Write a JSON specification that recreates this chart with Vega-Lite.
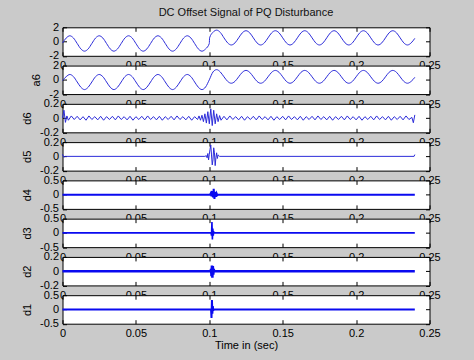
{
"$schema": "https://vega.github.io/schema/vega-lite/v6.json",
"autosize": {"type": "none"},
"padding": {"left": 62.5, "top": 27.3, "right": 411.5, "bottom": 332.7},
"background": "#cacaca",
"bounds": "flush",
"spacing": 9.27,
"config": {
  "view": {"fill": "white", "stroke": "black", "strokeWidth": 1},
  "axis": {"domain": false, "grid": false, "ticks": true, "tickSize": -4, "tickColor": "black", "tickWidth": 1,
    "labelFlush": false, "labelOverlap": false, "labelPadding": 8, "labelFont": "Liberation Sans", "labelFontSize": 11, "labelColor": "black",
    "titleFont": "Liberation Sans", "titleFontSize": 11, "titleFontWeight": "normal", "titleColor": "black"},
  "axisY": {"titlePadding": 7},
  "axisX": {"titlePadding": 1, "labelPadding": 8},
  "title": {"font": "Liberation Sans", "fontSize": 11, "fontWeight": "normal", "color": "#111111", "anchor": "middle", "frame": "group"},
  "line": {"color": "#2b2bd9", "strokeWidth": 1}
},
"datasets": {
  "s": [
    {"t":0,"v":-0.2},{"t":0.0025,"v":0.49},{"t":0.005,"v":0.81},{"t":0.0075,"v":0.49},{"t":0.01,"v":-0.27},{"t":0.0125,"v":-1.03},{"t":0.015,"v":-1.35},{"t":0.0175,"v":-1.03},
    {"t":0.02,"v":-0.27},{"t":0.0225,"v":0.49},{"t":0.025,"v":0.81},{"t":0.0275,"v":0.49},{"t":0.03,"v":-0.27},{"t":0.0325,"v":-1.03},{"t":0.035,"v":-1.35},{"t":0.0375,"v":-1.03},
    {"t":0.04,"v":-0.27},{"t":0.0425,"v":0.49},{"t":0.045,"v":0.81},{"t":0.0475,"v":0.49},{"t":0.05,"v":-0.27},{"t":0.0525,"v":-1.03},{"t":0.055,"v":-1.35},{"t":0.0575,"v":-1.03},
    {"t":0.06,"v":-0.27},{"t":0.0625,"v":0.49},{"t":0.065,"v":0.81},{"t":0.0675,"v":0.49},{"t":0.07,"v":-0.27},{"t":0.0725,"v":-1.03},{"t":0.075,"v":-1.35},{"t":0.0775,"v":-1.03},
    {"t":0.08,"v":-0.27},{"t":0.0825,"v":0.49},{"t":0.085,"v":0.81},{"t":0.0875,"v":0.49},{"t":0.09,"v":-0.27},{"t":0.0925,"v":-1.03},{"t":0.095,"v":-1.35},{"t":0.0975,"v":-1.03},
    {"t":0.1,"v":-0.27},{"t":0.1002,"v":0.52},{"t":0.1025,"v":1.3},{"t":0.105,"v":1.6},{"t":0.1075,"v":1.28},{"t":0.11,"v":0.52},{"t":0.1125,"v":-0.19},{"t":0.115,"v":-0.48},{"t":0.1175,"v":-0.19},
    {"t":0.12,"v":0.52},{"t":0.1225,"v":1.23},{"t":0.125,"v":1.52},{"t":0.1275,"v":1.23},{"t":0.13,"v":0.52},{"t":0.1325,"v":-0.19},{"t":0.135,"v":-0.48},{"t":0.1375,"v":-0.19},
    {"t":0.14,"v":0.52},{"t":0.1425,"v":1.23},{"t":0.145,"v":1.52},{"t":0.1475,"v":1.23},{"t":0.15,"v":0.52},{"t":0.1525,"v":-0.19},{"t":0.155,"v":-0.48},{"t":0.1575,"v":-0.19},
    {"t":0.16,"v":0.52},{"t":0.1625,"v":1.23},{"t":0.165,"v":1.52},{"t":0.1675,"v":1.23},{"t":0.17,"v":0.52},{"t":0.1725,"v":-0.19},{"t":0.175,"v":-0.48},{"t":0.1775,"v":-0.19},
    {"t":0.18,"v":0.52},{"t":0.1825,"v":1.23},{"t":0.185,"v":1.52},{"t":0.1875,"v":1.23},{"t":0.19,"v":0.52},{"t":0.1925,"v":-0.19},{"t":0.195,"v":-0.48},{"t":0.1975,"v":-0.19},
    {"t":0.2,"v":0.52},{"t":0.2025,"v":1.23},{"t":0.205,"v":1.52},{"t":0.2075,"v":1.23},{"t":0.21,"v":0.52},{"t":0.2125,"v":-0.19},{"t":0.215,"v":-0.48},{"t":0.2175,"v":-0.19},
    {"t":0.22,"v":0.52},{"t":0.2225,"v":1.23},{"t":0.225,"v":1.52},{"t":0.2275,"v":1.23},{"t":0.23,"v":0.52},{"t":0.2325,"v":-0.19},{"t":0.235,"v":-0.48},{"t":0.2375,"v":-0.19},
    {"t":0.24,"v":0.45}
  ],
  "a6": [
    {"t":0,"v":-0.1},{"t":0.0025,"v":0.44},{"t":0.005,"v":0.75},{"t":0.0075,"v":0.44},{"t":0.01,"v":-0.3},{"t":0.0125,"v":-1.04},{"t":0.015,"v":-1.37},{"t":0.0175,"v":-1.04},
    {"t":0.02,"v":-0.3},{"t":0.0225,"v":0.44},{"t":0.025,"v":0.75},{"t":0.0275,"v":0.44},{"t":0.03,"v":-0.3},{"t":0.0325,"v":-1.04},{"t":0.035,"v":-1.37},{"t":0.0375,"v":-1.04},
    {"t":0.04,"v":-0.3},{"t":0.0425,"v":0.44},{"t":0.045,"v":0.75},{"t":0.0475,"v":0.44},{"t":0.05,"v":-0.3},{"t":0.0525,"v":-1.04},{"t":0.055,"v":-1.37},{"t":0.0575,"v":-1.04},
    {"t":0.06,"v":-0.3},{"t":0.0625,"v":0.44},{"t":0.065,"v":0.75},{"t":0.0675,"v":0.44},{"t":0.07,"v":-0.3},{"t":0.0725,"v":-1.04},{"t":0.075,"v":-1.37},{"t":0.0775,"v":-1.04},
    {"t":0.08,"v":-0.3},{"t":0.0825,"v":0.44},{"t":0.085,"v":0.75},{"t":0.0875,"v":0.44},{"t":0.09,"v":-0.3},{"t":0.0925,"v":-1.04},{"t":0.095,"v":-1.37},{"t":0.0975,"v":-1.0},
    {"t":0.1,"v":0.0},{"t":0.1025,"v":1.1},{"t":0.105,"v":1.43},{"t":0.1075,"v":1.1},{"t":0.11,"v":0.42},{"t":0.1125,"v":-0.22},{"t":0.115,"v":-0.48},{"t":0.1175,"v":-0.22},
    {"t":0.12,"v":0.42},{"t":0.1225,"v":1.06},{"t":0.125,"v":1.32},{"t":0.1275,"v":1.06},{"t":0.13,"v":0.42},{"t":0.1325,"v":-0.22},{"t":0.135,"v":-0.48},{"t":0.1375,"v":-0.22},
    {"t":0.14,"v":0.42},{"t":0.1425,"v":1.06},{"t":0.145,"v":1.32},{"t":0.1475,"v":1.06},{"t":0.15,"v":0.42},{"t":0.1525,"v":-0.22},{"t":0.155,"v":-0.48},{"t":0.1575,"v":-0.22},
    {"t":0.16,"v":0.42},{"t":0.1625,"v":1.06},{"t":0.165,"v":1.32},{"t":0.1675,"v":1.06},{"t":0.17,"v":0.42},{"t":0.1725,"v":-0.22},{"t":0.175,"v":-0.48},{"t":0.1775,"v":-0.22},
    {"t":0.18,"v":0.42},{"t":0.1825,"v":1.06},{"t":0.185,"v":1.32},{"t":0.1875,"v":1.06},{"t":0.19,"v":0.42},{"t":0.1925,"v":-0.22},{"t":0.195,"v":-0.48},{"t":0.1975,"v":-0.22},
    {"t":0.2,"v":0.42},{"t":0.2025,"v":1.06},{"t":0.205,"v":1.32},{"t":0.2075,"v":1.06},{"t":0.21,"v":0.42},{"t":0.2125,"v":-0.22},{"t":0.215,"v":-0.48},{"t":0.2175,"v":-0.22},
    {"t":0.22,"v":0.42},{"t":0.2225,"v":1.06},{"t":0.225,"v":1.32},{"t":0.2275,"v":1.06},{"t":0.23,"v":0.42},{"t":0.2325,"v":-0.22},{"t":0.235,"v":-0.48},{"t":0.2375,"v":-0.22},
    {"t":0.24,"v":0.35}
  ],
  "d6": [
    {"t":0,"v":0},{"t":0.001,"v":0.11},{"t":0.002,"v":-0.06},{"t":0.003,"v":0.03},
    {"t":0.004,"v":-0.03},{"t":0.006,"v":0.03},{"t":0.008,"v":-0.02},{"t":0.010,"v":0.025},{"t":0.012,"v":-0.025},{"t":0.014,"v":0.02},{"t":0.016,"v":-0.03},{"t":0.018,"v":0.03},
    {"t":0.020,"v":-0.02},{"t":0.022,"v":0.02},{"t":0.024,"v":-0.025},{"t":0.026,"v":0.025},{"t":0.028,"v":-0.03},{"t":0.030,"v":0.02},{"t":0.032,"v":-0.02},{"t":0.034,"v":0.025},
    {"t":0.036,"v":-0.025},{"t":0.038,"v":0.03},{"t":0.040,"v":-0.02},{"t":0.042,"v":0.02},{"t":0.044,"v":-0.025},{"t":0.046,"v":0.025},{"t":0.048,"v":-0.03},{"t":0.050,"v":0.02},
    {"t":0.052,"v":-0.02},{"t":0.054,"v":0.025},{"t":0.056,"v":-0.025},{"t":0.058,"v":0.03},{"t":0.060,"v":-0.02},{"t":0.062,"v":0.02},{"t":0.064,"v":-0.025},{"t":0.066,"v":0.025},
    {"t":0.068,"v":-0.03},{"t":0.070,"v":0.02},{"t":0.072,"v":-0.02},{"t":0.074,"v":0.025},{"t":0.076,"v":-0.025},{"t":0.078,"v":0.03},{"t":0.080,"v":-0.02},{"t":0.082,"v":0.02},
    {"t":0.084,"v":-0.025},{"t":0.086,"v":0.025},{"t":0.088,"v":-0.03},{"t":0.090,"v":0.02},{"t":0.092,"v":-0.02},
    {"t":0.093,"v":0.03},{"t":0.094,"v":-0.03},{"t":0.095,"v":0.04},{"t":0.096,"v":-0.05},{"t":0.097,"v":0.06},{"t":0.098,"v":-0.07},{"t":0.099,"v":0.09},{"t":0.100,"v":-0.08},
    {"t":0.101,"v":0.13},{"t":0.102,"v":-0.105},{"t":0.103,"v":0.11},{"t":0.104,"v":-0.08},{"t":0.105,"v":0.06},{"t":0.106,"v":-0.05},{"t":0.107,"v":0.035},{"t":0.108,"v":-0.03},
    {"t":0.110,"v":0.025},{"t":0.112,"v":-0.025},{"t":0.114,"v":0.03},{"t":0.116,"v":-0.02},{"t":0.118,"v":0.02},{"t":0.120,"v":-0.025},{"t":0.122,"v":0.025},{"t":0.124,"v":-0.03},
    {"t":0.126,"v":0.02},{"t":0.128,"v":-0.02},{"t":0.130,"v":0.025},{"t":0.132,"v":-0.025},{"t":0.134,"v":0.03},{"t":0.136,"v":-0.02},{"t":0.138,"v":0.02},{"t":0.140,"v":-0.025},
    {"t":0.142,"v":0.025},{"t":0.144,"v":-0.03},{"t":0.146,"v":0.02},{"t":0.148,"v":-0.02},{"t":0.150,"v":0.025},{"t":0.152,"v":-0.025},{"t":0.154,"v":0.03},{"t":0.156,"v":-0.02},
    {"t":0.158,"v":0.02},{"t":0.160,"v":-0.025},{"t":0.162,"v":0.025},{"t":0.164,"v":-0.03},{"t":0.166,"v":0.02},{"t":0.168,"v":-0.02},{"t":0.170,"v":0.025},{"t":0.172,"v":-0.025},
    {"t":0.174,"v":0.03},{"t":0.176,"v":-0.02},{"t":0.178,"v":0.02},{"t":0.180,"v":-0.025},{"t":0.182,"v":0.025},{"t":0.184,"v":-0.03},{"t":0.186,"v":0.02},{"t":0.188,"v":-0.02},
    {"t":0.190,"v":0.025},{"t":0.192,"v":-0.025},{"t":0.194,"v":0.03},{"t":0.196,"v":-0.02},{"t":0.198,"v":0.02},{"t":0.200,"v":-0.025},{"t":0.202,"v":0.025},{"t":0.204,"v":-0.03},
    {"t":0.206,"v":0.02},{"t":0.208,"v":-0.02},{"t":0.210,"v":0.025},{"t":0.212,"v":-0.025},{"t":0.214,"v":0.03},{"t":0.216,"v":-0.02},{"t":0.218,"v":0.02},{"t":0.220,"v":-0.025},
    {"t":0.222,"v":0.025},{"t":0.224,"v":-0.03},{"t":0.226,"v":0.02},{"t":0.228,"v":-0.02},{"t":0.230,"v":0.025},{"t":0.232,"v":-0.025},{"t":0.234,"v":0.03},{"t":0.236,"v":-0.02},
    {"t":0.238,"v":0.01},{"t":0.239,"v":-0.065},{"t":0.24,"v":0.045}
  ],
  "d5": [
    {"t":0,"v":0.03},{"t":0.0008,"v":-0.01},{"t":0.002,"v":0},{"t":0.097,"v":0},{"t":0.098,"v":0.01},{"t":0.0985,"v":-0.02},{"t":0.099,"v":0.04},{"t":0.0995,"v":-0.05},
    {"t":0.1,"v":0.03},{"t":0.1005,"v":0.1},{"t":0.101,"v":0.16},{"t":0.1015,"v":0.02},{"t":0.102,"v":-0.12},{"t":0.1025,"v":-0.05},{"t":0.103,"v":0.12},{"t":0.1035,"v":0.05},
    {"t":0.104,"v":-0.13},{"t":0.1045,"v":-0.02},{"t":0.105,"v":0.05},{"t":0.1055,"v":-0.03},{"t":0.106,"v":0.02},{"t":0.107,"v":0},{"t":0.2395,"v":0},{"t":0.24,"v":0.025}
  ],
  "d4": [
    {"t":0,"v":0},{"t":0.1005,"v":0},{"t":0.101,"v":0.05},{"t":0.1015,"v":-0.06},{"t":0.102,"v":0.12},{"t":0.1025,"v":-0.1},{"t":0.103,"v":0.2},{"t":0.1035,"v":-0.15},
    {"t":0.104,"v":0.1},{"t":0.1045,"v":-0.08},{"t":0.105,"v":0.04},{"t":0.1055,"v":-0.02},{"t":0.106,"v":0},{"t":0.24,"v":0}
  ],
  "d3": [
    {"t":0,"v":0},{"t":0.1012,"v":0},{"t":0.1015,"v":-0.1},{"t":0.1018,"v":0.38},{"t":0.1021,"v":-0.23},{"t":0.1024,"v":0.15},{"t":0.1027,"v":-0.1},{"t":0.103,"v":0.05},{"t":0.1033,"v":0},{"t":0.24,"v":0}
  ],
  "d2": [
    {"t":0,"v":0},{"t":0.1009,"v":0},{"t":0.1012,"v":0.03},{"t":0.1015,"v":-0.07},{"t":0.1018,"v":0.08},{"t":0.1021,"v":-0.09},{"t":0.1024,"v":0.07},{"t":0.1027,"v":-0.05},{"t":0.103,"v":0.03},{"t":0.1033,"v":0},{"t":0.24,"v":0}
  ],
  "d1": [
    {"t":0,"v":0},{"t":0.1012,"v":0},{"t":0.1015,"v":-0.3},{"t":0.1018,"v":0.33},{"t":0.1021,"v":-0.15},{"t":0.1024,"v":0.12},{"t":0.1027,"v":-0.04},{"t":0.103,"v":0},{"t":0.24,"v":0}
  ]
},
"vconcat": [
  {"width": 367, "height": 28.5, "data": {"name": "s"},
   "title": {"text": "DC Offset Signal of PQ Disturbance", "offset": 0, "baseline": "alphabetic", "dy": 6},
   "layer": [
    {"mark": {"type": "line", "interpolate": "monotone"},
     "encoding": {
      "x": {"field": "t", "type": "quantitative", "scale": {"domain": [0, 0.25], "nice": false, "zero": false}, "axis": {"orient": "bottom", "values": [0, 0.05, 0.1, 0.15, 0.2, 0.25], "labelExpr": "toString(datum.value)", "title": null}},
      "y": {"field": "v", "type": "quantitative", "scale": {"domain": [-2, 2], "nice": false, "zero": false}, "axis": {"orient": "left", "values": [-2, 0, 2], "labelExpr": "toString(datum.value)", "title": null}}}},
    {"mark": {"type": "line", "opacity": 0},
     "encoding": {
      "x": {"field": "t", "type": "quantitative", "axis": {"orient": "top", "values": [0, 0.05, 0.1, 0.15, 0.2, 0.25], "labels": false, "title": null}},
      "y": {"field": "v", "type": "quantitative", "axis": {"orient": "right", "values": [-2, 0, 2], "labels": false, "title": null}}}}
   ],
   "resolve": {"axis": {"x": "independent", "y": "independent"}}},
  {"width": 367, "height": 28.5, "data": {"name": "a6"},
   "layer": [
    {"mark": {"type": "line", "interpolate": "monotone"},
     "encoding": {
      "x": {"field": "t", "type": "quantitative", "scale": {"domain": [0, 0.25], "nice": false, "zero": false}, "axis": {"orient": "bottom", "values": [0, 0.05, 0.1, 0.15, 0.2, 0.25], "labelExpr": "toString(datum.value)", "title": null}},
      "y": {"field": "v", "type": "quantitative", "scale": {"domain": [-2, 2], "nice": false, "zero": false}, "axis": {"orient": "left", "values": [-2, 0, 2], "labelExpr": "toString(datum.value)", "title": "a6"}}}},
    {"mark": {"type": "line", "opacity": 0},
     "encoding": {
      "x": {"field": "t", "type": "quantitative", "axis": {"orient": "top", "values": [0, 0.05, 0.1, 0.15, 0.2, 0.25], "labels": false, "title": null}},
      "y": {"field": "v", "type": "quantitative", "axis": {"orient": "right", "values": [-2, 0, 2], "labels": false, "title": null}}}}
   ],
   "resolve": {"axis": {"x": "independent", "y": "independent"}}},
  {"width": 367, "height": 28.5, "data": {"name": "d6"},
   "layer": [
    {"mark": {"type": "line"},
     "encoding": {
      "x": {"field": "t", "type": "quantitative", "scale": {"domain": [0, 0.25], "nice": false, "zero": false}, "axis": {"orient": "bottom", "values": [0, 0.05, 0.1, 0.15, 0.2, 0.25], "labelExpr": "toString(datum.value)", "title": null}},
      "y": {"field": "v", "type": "quantitative", "scale": {"domain": [-0.2, 0.2], "nice": false, "zero": false}, "axis": {"orient": "left", "values": [-0.2, 0, 0.2], "labelExpr": "toString(datum.value)", "title": "d6"}}}},
    {"mark": {"type": "line", "opacity": 0},
     "encoding": {
      "x": {"field": "t", "type": "quantitative", "axis": {"orient": "top", "values": [0, 0.05, 0.1, 0.15, 0.2, 0.25], "labels": false, "title": null}},
      "y": {"field": "v", "type": "quantitative", "axis": {"orient": "right", "values": [-0.2, 0, 0.2], "labels": false, "title": null}}}}
   ],
   "resolve": {"axis": {"x": "independent", "y": "independent"}}},
  {"width": 367, "height": 28.5, "data": {"name": "d5"},
   "layer": [
    {"mark": {"type": "line"},
     "encoding": {
      "x": {"field": "t", "type": "quantitative", "scale": {"domain": [0, 0.25], "nice": false, "zero": false}, "axis": {"orient": "bottom", "values": [0, 0.05, 0.1, 0.15, 0.2, 0.25], "labelExpr": "toString(datum.value)", "title": null}},
      "y": {"field": "v", "type": "quantitative", "scale": {"domain": [-0.2, 0.2], "nice": false, "zero": false}, "axis": {"orient": "left", "values": [-0.2, 0, 0.2], "labelExpr": "toString(datum.value)", "title": "d5"}}}},
    {"mark": {"type": "line", "opacity": 0},
     "encoding": {
      "x": {"field": "t", "type": "quantitative", "axis": {"orient": "top", "values": [0, 0.05, 0.1, 0.15, 0.2, 0.25], "labels": false, "title": null}},
      "y": {"field": "v", "type": "quantitative", "axis": {"orient": "right", "values": [-0.2, 0, 0.2], "labels": false, "title": null}}}}
   ],
   "resolve": {"axis": {"x": "independent", "y": "independent"}}},
  {"width": 367, "height": 28.5, "data": {"name": "d4"},
   "layer": [
    {"mark": {"type": "line", "color": "#0a0af0", "strokeWidth": 2},
     "encoding": {
      "x": {"field": "t", "type": "quantitative", "scale": {"domain": [0, 0.25], "nice": false, "zero": false}, "axis": {"orient": "bottom", "values": [0, 0.05, 0.1, 0.15, 0.2, 0.25], "labelExpr": "toString(datum.value)", "title": null}},
      "y": {"field": "v", "type": "quantitative", "scale": {"domain": [-0.5, 0.5], "nice": false, "zero": false}, "axis": {"orient": "left", "values": [-0.5, 0, 0.5], "labelExpr": "toString(datum.value)", "title": "d4"}}}},
    {"mark": {"type": "line", "opacity": 0},
     "encoding": {
      "x": {"field": "t", "type": "quantitative", "axis": {"orient": "top", "values": [0, 0.05, 0.1, 0.15, 0.2, 0.25], "labels": false, "title": null}},
      "y": {"field": "v", "type": "quantitative", "axis": {"orient": "right", "values": [-0.5, 0, 0.5], "labels": false, "title": null}}}}
   ],
   "resolve": {"axis": {"x": "independent", "y": "independent"}}},
  {"width": 367, "height": 28.5, "data": {"name": "d3"},
   "layer": [
    {"mark": {"type": "line", "color": "#0a0af0", "strokeWidth": 1.6},
     "encoding": {
      "x": {"field": "t", "type": "quantitative", "scale": {"domain": [0, 0.25], "nice": false, "zero": false}, "axis": {"orient": "bottom", "values": [0, 0.05, 0.1, 0.15, 0.2, 0.25], "labelExpr": "toString(datum.value)", "title": null}},
      "y": {"field": "v", "type": "quantitative", "scale": {"domain": [-0.5, 0.5], "nice": false, "zero": false}, "axis": {"orient": "left", "values": [-0.5, 0, 0.5], "labelExpr": "toString(datum.value)", "title": "d3"}}}},
    {"mark": {"type": "line", "opacity": 0},
     "encoding": {
      "x": {"field": "t", "type": "quantitative", "axis": {"orient": "top", "values": [0, 0.05, 0.1, 0.15, 0.2, 0.25], "labels": false, "title": null}},
      "y": {"field": "v", "type": "quantitative", "axis": {"orient": "right", "values": [-0.5, 0, 0.5], "labels": false, "title": null}}}}
   ],
   "resolve": {"axis": {"x": "independent", "y": "independent"}}},
  {"width": 367, "height": 28.5, "data": {"name": "d2"},
   "layer": [
    {"mark": {"type": "line", "color": "#0a0af0", "strokeWidth": 2.5},
     "encoding": {
      "x": {"field": "t", "type": "quantitative", "scale": {"domain": [0, 0.25], "nice": false, "zero": false}, "axis": {"orient": "bottom", "values": [0, 0.05, 0.1, 0.15, 0.2, 0.25], "labelExpr": "toString(datum.value)", "title": null}},
      "y": {"field": "v", "type": "quantitative", "scale": {"domain": [-0.2, 0.2], "nice": false, "zero": false}, "axis": {"orient": "left", "values": [-0.2, 0, 0.2], "labelExpr": "toString(datum.value)", "title": "d2"}}}},
    {"mark": {"type": "line", "opacity": 0},
     "encoding": {
      "x": {"field": "t", "type": "quantitative", "axis": {"orient": "top", "values": [0, 0.05, 0.1, 0.15, 0.2, 0.25], "labels": false, "title": null}},
      "y": {"field": "v", "type": "quantitative", "axis": {"orient": "right", "values": [-0.2, 0, 0.2], "labels": false, "title": null}}}}
   ],
   "resolve": {"axis": {"x": "independent", "y": "independent"}}},
  {"width": 367, "height": 28.5, "data": {"name": "d1"},
   "layer": [
    {"mark": {"type": "line", "color": "#0a0af0", "strokeWidth": 2},
     "encoding": {
      "x": {"field": "t", "type": "quantitative", "scale": {"domain": [0, 0.25], "nice": false, "zero": false}, "axis": {"orient": "bottom", "values": [0, 0.05, 0.1, 0.15, 0.2, 0.25], "labelExpr": "toString(datum.value)", "title": "Time in (sec)"}},
      "y": {"field": "v", "type": "quantitative", "scale": {"domain": [-0.5, 0.5], "nice": false, "zero": false}, "axis": {"orient": "left", "values": [-0.5, 0, 0.5], "labelExpr": "toString(datum.value)", "title": "d1"}}}},
    {"mark": {"type": "line", "opacity": 0},
     "encoding": {
      "x": {"field": "t", "type": "quantitative", "axis": {"orient": "top", "values": [0, 0.05, 0.1, 0.15, 0.2, 0.25], "labels": false, "title": null}},
      "y": {"field": "v", "type": "quantitative", "axis": {"orient": "right", "values": [-0.5, 0, 0.5], "labels": false, "title": null}}}}
   ],
   "resolve": {"axis": {"x": "independent", "y": "independent"}}}
]
}
